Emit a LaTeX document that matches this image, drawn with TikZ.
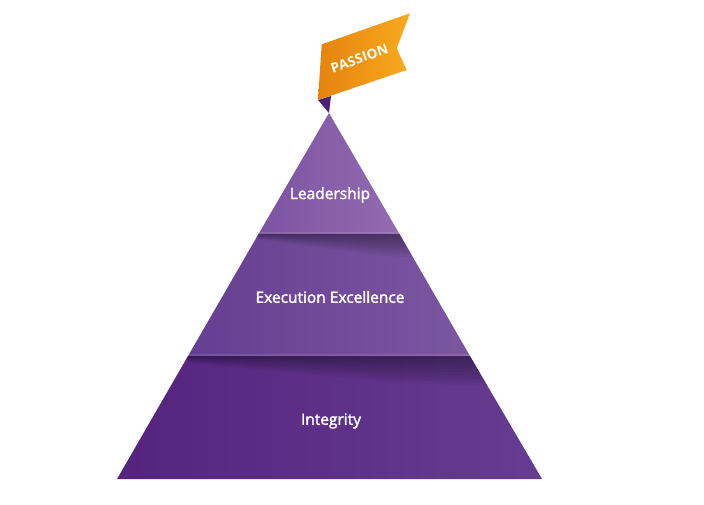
\documentclass[tikz,border=0pt]{standalone}
\usepackage{fontspec}
\newfontfamily\labelfont[FakeBold=2]{Open Sans}
\newfontfamily\flagfont[LetterSpace=2]{Open Sans}
\usepackage{tikz}
\usetikzlibrary{calc}
\definecolor{topL}{HTML}{7D53A2}
\definecolor{topR}{HTML}{926BB0}
\definecolor{midL}{HTML}{663E92}
\definecolor{midR}{HTML}{7C57A0}
\definecolor{lowL}{HTML}{55237F}
\definecolor{lowR}{HTML}{663D90}
\definecolor{flagL}{HTML}{E5830E}
\definecolor{flagR}{HTML}{F8AA1E}
\definecolor{fold}{HTML}{4A2079}

\begin{document}
\begin{tikzpicture}[
    x=1pt, y=-1pt,
    shadow/.style = {black, opacity=0.045},
    lbl/.style = {text=white, font=\labelfont\fontsize{15.5}{18}\selectfont, inner sep=0pt}
  ]
  \useasboundingbox (0,0) rectangle (704,505);

  \coordinate (A) at (329,113);
  \coordinate (L1) at (258.5,234);
  \coordinate (R1) at (399.5,234);
  \coordinate (L2) at (188,356);
  \coordinate (R2) at (470,356);
  \coordinate (BL) at (117,479);
  \coordinate (BR) at (542,479);

  % pyramid bands
  \shade[left color=lowL, right color=lowR] (L2) -- (R2) -- (BR) -- (BL) -- cycle;
  \shade[left color=midL, right color=midR] (L1) -- (R1) -- (R2) -- (L2) -- cycle;
  \shade[left color=topL, right color=topR] (A) -- (R1) -- (L1) -- cycle;

  % fold shadows
  \begin{scope}
    \clip (L2) -- (R2) -- (BR) -- (BL) -- cycle;
    \foreach \i in {1,...,9}
      \fill[shadow] (180,356) -- (560,356) -- (560,356+3.6*\i) -- (400,356+3*\i) -- (190,356+0.8*\i) -- cycle;
  \end{scope}
  \begin{scope}
    \clip (L1) -- (R1) -- (R2) -- (L2) -- cycle;
    \foreach \i in {1,...,9}
      \fill[shadow] (250,234) -- (480,234) -- (480,234+3*\i) -- (380,234+2.4*\i) -- (260,234+0.6*\i) -- cycle;
  \end{scope}
  \fill[white, opacity=0.12] ($(L1)+(1.2,-2)$) -- ($(R1)+(-1.2,-2)$) -- (R1) -- (L1) -- cycle;
  \fill[white, opacity=0.10] ($(L2)+(1.2,-2)$) -- ($(R2)+(-1.2,-2)$) -- (R2) -- (L2) -- cycle;

  % flag
  \fill[fold] (318,100) -- (331,96) -- (A) -- cycle;
  \shade[left color=flagL, right color=flagR]
    (321.7,44.3) -- (410,13.3) -- (396.7,48.3) -- (406.7,70) -- (318,100) -- cycle;
  \node[text=white, rotate=19.5, inner sep=0pt,
        font=\flagfont\bfseries\fontsize{13.5}{15}\selectfont] (passion) at (359.5,58.5) {PASSION};

  \node[lbl] (leadership) at (330,195) {Leadership};
  \node[lbl] (execution) at (330,297) {Execution Excellence};
  \node[lbl] (integrity) at (331,421) {Integrity};
\end{tikzpicture}
\end{document}
